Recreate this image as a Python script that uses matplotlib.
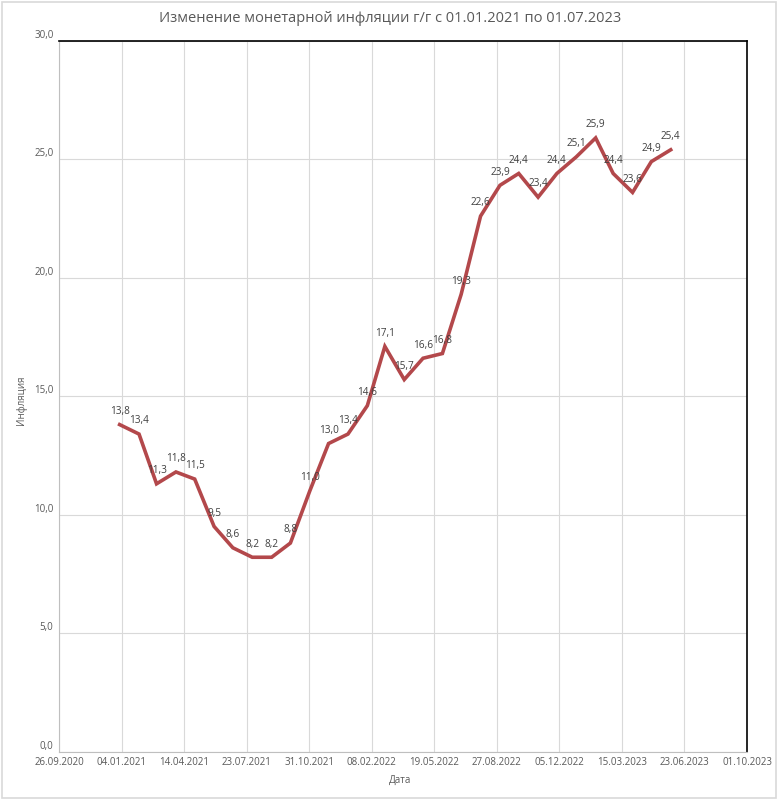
import matplotlib
matplotlib.use("Agg")
import matplotlib.pyplot as plt
import matplotlib.dates as mdates
import datetime as dt
from matplotlib.ticker import FuncFormatter
from matplotlib.patches import Rectangle

plt.rcParams['font.family'] = ['Open Sans', 'DejaVu Sans']

months = [dt.date(2021 + (i // 12), i % 12 + 1, 1) for i in range(30)]
values = [13.8, 13.4, 11.3, 11.8, 11.5, 9.5, 8.6, 8.2, 8.2, 8.8,
          11.0, 13.0, 13.4, 14.6, 17.1, 15.7, 16.6, 16.8, 19.3, 22.6,
          23.9, 24.4, 23.4, 24.4, 25.1, 25.9, 24.4, 23.6, 24.9, 25.4]
x_start = dt.date(2020, 9, 26)
x_end = dt.date(2023, 10, 1)
tick_dates = [x_start + dt.timedelta(days=100 * k) for k in range(12)]
y_ticks = [0, 5, 10, 15, 20, 25, 30]

title = "Изменение монетарной инфляции г/г с 01.01.2021 по 01.07.2023"
xlabel = "Дата"
ylabel = "Инфляция"

txt = '#595959'
fig = plt.figure(figsize=(7.81, 8.0), dpi=100)
ax = fig.add_axes([0.0755, 0.0606, 0.881, 0.8884])

ax.plot(months, values, color='#B3484B', lw=2.6, solid_joinstyle='miter', zorder=3)
for d, v in zip(months, values):
    ax.annotate(f"{v:.1f}".replace('.', ','), (d, v), xytext=(0, 9.5),
                textcoords='offset points', ha='center', va='center',
                fontsize=7.2, color='#404040', zorder=4)

ax.set_xlim(x_start, x_end)
ax.set_ylim(0, 30)
ax.set_xticks(tick_dates)
ax.xaxis.set_major_formatter(mdates.DateFormatter('%d.%m.%Y'))
ax.set_yticks(y_ticks)
ax.yaxis.set_major_formatter(FuncFormatter(lambda v, p: f"{v:.1f}".replace('.', ',')))
ax.tick_params(axis='both', length=0, labelsize=7, colors=txt)
ax.tick_params(axis='x', pad=4)
ax.tick_params(axis='y', pad=4)
for lab in ax.get_yticklabels():
    lab.set_va('bottom')

ax.grid(True, color='#D9D9D9', lw=0.8)
ax.set_axisbelow(True)
for s in ['left', 'bottom']:
    ax.spines[s].set_color('#BFBFBF')
    ax.spines[s].set_linewidth(0.8)
for s in ['top', 'right']:
    ax.spines[s].set_color('black')
    ax.spines[s].set_linewidth(1.2)

fig.text(0.5, 0.977, title, ha='center', va='center', fontsize=10.5, color=txt)
fig.text(0.512, 0.025, xlabel, ha='center', va='center', fontsize=7, color=txt)
fig.text(0.028, 0.5, ylabel, ha='center', va='center', rotation=90, fontsize=7, color=txt)

fig.patches.append(Rectangle((0.002, 0.002), 0.992, 0.996, transform=fig.transFigure,
                             fill=False, edgecolor='#D9D9D9', lw=1.2))

fig.savefig('out.png', dpi=100)
